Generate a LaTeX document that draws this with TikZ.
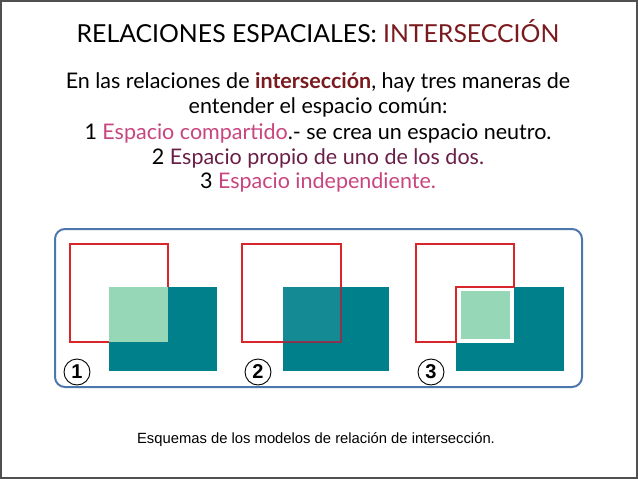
\documentclass[tikz,border=0pt]{standalone}
\usepackage{fontspec}
\setmainfont{Lato}
\newfontfamily\capfont{Liberation Sans}
\usepackage{tikz}
\usetikzlibrary{positioning}

\definecolor{titlered}{HTML}{7A1A1E}
\definecolor{pinktext}{HTML}{C8457F}
\definecolor{plumtext}{HTML}{6A1F48}
\definecolor{tealdark}{HTML}{00808A}
\definecolor{tealmid}{HTML}{148A95}
\definecolor{mint}{HTML}{96D7B8}
\definecolor{redline}{HTML}{D9262B}
\definecolor{redshade}{HTML}{8A3550}
\definecolor{frameblue}{HTML}{4D76AC}
\definecolor{slidegray}{HTML}{505050}

\tikzset{
	redbox/.style={draw=redline,line width=1.4pt},
	tealbox/.style={fill=tealdark},
	mintbox/.style={fill=mint},
	numcirc/.style={circle,draw=black,line width=.9pt,minimum size=26pt,inner sep=0pt,font=\capfont\bfseries\fontsize{20}{20}\selectfont},
	textline/.style={font=\fontsize{21.5}{24}\selectfont}
}

\begin{document}
\begin{tikzpicture}[x=1pt,y=-1pt]
		\useasboundingbox (0,0) rectangle (638,479);
		\draw[slidegray,line width=1.5pt] (1,1) rectangle (637,478);

		\node (titulo) at (318,31) {\fontsize{24.8}{27}\selectfont RELACIONES ESPACIALES: \textcolor{titlered}{INTERSECCIÓN}};
		\node[textline] (linea1) at (318,82) {En las relaciones de \textcolor{titlered}{\bfseries intersección}, hay tres maneras de};
		\node[textline] (linea2) at (318,107) {entender el espacio común:};
		\node[textline] (linea3) at (318,133) {1 \textcolor{pinktext}{Espacio compartido}.- se crea un espacio neutro.};
		\node[textline] (linea4) at (318,158) {2 \textcolor{plumtext}{Espacio propio de uno de los dos.}};
		\node[textline] (linea5) at (318,182) {3 \textcolor{pinktext}{Espacio independiente.}};

		\draw[frameblue,line width=2pt,rounded corners=10pt] (55,229) rectangle (582,387);

		% modelo 1
		\draw[redbox] (70,244) rectangle (168,342);
		\fill[tealbox] (109,287) rectangle (217,371);
		\fill[mintbox] (109,287) rectangle (168,342);
		\node[numcirc] (uno) at (77,372) {1};

		% modelo 2
		\fill[tealbox] (283,287) rectangle (389,371);
		\fill[tealmid] (283,287) rectangle (341,342);
		\draw[redbox] (242,244) rectangle (341,342);
		\draw[redbox,draw=redshade] (341,287) -- (341,342) -- (283,342);
		\node[numcirc] (dos) at (258,372) {2};

		% modelo 3
		\fill[tealbox] (456,287) rectangle (564,371);
		\fill[white] (457,288) rectangle (514,343);
		\fill[mintbox] (461,291) rectangle (510,339);
		\draw[redbox] (416,244) -- (514,244) -- (514,287) -- (456,287) -- (456,342) -- (416,342) -- cycle;
		\node[numcirc] (tres) at (431,372) {3};

		\node[font=\capfont\fontsize{14.8}{16}\selectfont] (pie) at (316,440) {Esquemas de los modelos de relación de intersección.};
	\end{tikzpicture}
\end{document}
